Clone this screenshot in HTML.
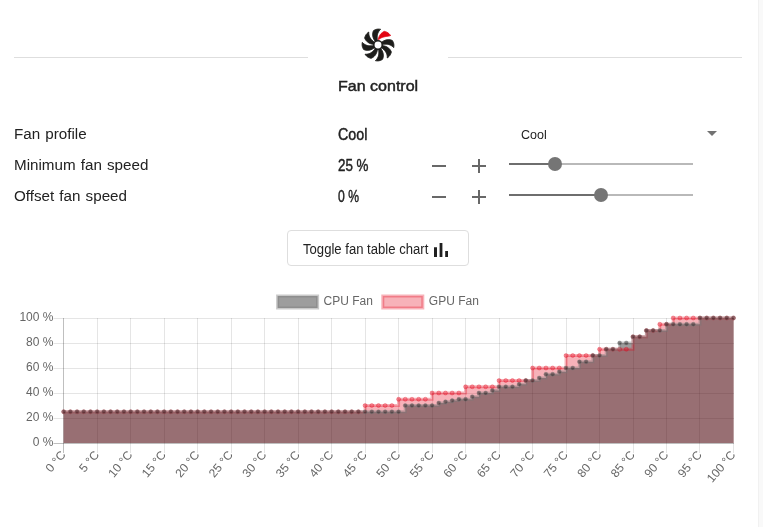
<!DOCTYPE html>
<html><head><meta charset="utf-8"><title>Fan control</title>
<style>
html,body{margin:0;padding:0;background:#fff;}
body{width:763px;height:527px;position:relative;overflow:hidden;font-family:"Liberation Sans",Arial,sans-serif;color:#222;}
.abs{position:absolute;white-space:nowrap;}
.hr{position:absolute;height:1px;background:#dedede;top:57px;}
.lbl{left:14px;font-size:15.2px;line-height:20px;word-spacing:0.9px;}
.val{left:338px;font-size:16.2px;line-height:20px;font-weight:400;-webkit-text-stroke:0.45px #222;transform-origin:0 50%;transform:scaleX(0.9);}
.ic{position:absolute;background:#686868;}
.track{position:absolute;height:2px;}
.thumb{position:absolute;width:14px;height:14px;border-radius:50%;background:#757575;}
#sb{position:absolute;left:758px;top:0;width:5px;height:527px;background:#f9f9f9;border-left:1px solid #f1f1f1;box-sizing:border-box}
#btn{position:absolute;left:287px;top:230px;width:182px;height:36px;box-sizing:border-box;border:1px solid #dedede;border-radius:4px;background:#fff;}
</style></head><body>
<div class="hr" style="left:14px;width:294px"></div>
<div class="hr" style="left:448px;width:294px"></div>
<svg id="fan" width="40" height="40" viewBox="-20 -20 40 40" style="position:absolute;left:357.9px;top:24.65px" stroke-linejoin="round" stroke-width="0.9"><path d="M-2.27 -2.79 L-2.83 -3.56 L-3.36 -4.35 L-3.85 -5.17 L-4.29 -6.03 L-4.67 -6.92 L-4.97 -7.86 L-5.19 -8.84 L-5.31 -9.86 L-5.31 -10.93 L-5.20 -12.02 L-4.94 -13.15 L-4.54 -14.30 L-3.47 -14.93 L-2.33 -15.43 L-1.12 -15.76 L0.12 -15.90 L1.37 -15.87 L2.61 -15.68 L1.69 -14.78 L0.94 -13.82 L0.35 -12.82 L-0.11 -11.80 L-0.44 -10.77 L-0.65 -9.73 L-0.77 -8.69 L-0.81 -7.66 L-0.78 -6.63 L-0.70 -5.61 L-0.58 -4.59 L-0.44 -3.57Z" fill="#1d1d1b" stroke="#1d1d1b"/><path d="M2.79 -2.27 L3.56 -2.83 L4.35 -3.36 L5.17 -3.85 L6.03 -4.29 L6.92 -4.67 L7.86 -4.97 L8.84 -5.19 L9.86 -5.31 L10.93 -5.31 L12.02 -5.20 L13.15 -4.94 L14.30 -4.54 L14.93 -3.47 L15.43 -2.33 L15.76 -1.12 L15.90 0.12 L15.87 1.37 L15.68 2.61 L14.78 1.69 L13.82 0.94 L12.82 0.35 L11.80 -0.11 L10.77 -0.44 L9.73 -0.65 L8.69 -0.77 L7.66 -0.81 L6.63 -0.78 L5.61 -0.70 L4.59 -0.58 L3.57 -0.44Z" fill="#1d1d1b" stroke="#1d1d1b"/><path d="M3.58 0.37 L4.52 0.51 L5.46 0.70 L6.38 0.93 L7.30 1.23 L8.20 1.60 L9.07 2.05 L9.92 2.58 L10.73 3.22 L11.48 3.97 L12.18 4.83 L12.80 5.80 L13.32 6.90 L13.01 8.10 L12.56 9.26 L11.94 10.35 L11.16 11.33 L10.25 12.19 L9.24 12.94 L9.25 11.65 L9.10 10.44 L8.82 9.31 L8.42 8.27 L7.92 7.30 L7.34 6.42 L6.69 5.60 L5.99 4.84 L5.24 4.14 L4.46 3.47 L3.65 2.83 L2.84 2.21Z" fill="#1d1d1b" stroke="#1d1d1b"/><path d="M2.27 2.79 L2.83 3.56 L3.36 4.35 L3.85 5.17 L4.29 6.03 L4.67 6.92 L4.97 7.86 L5.19 8.84 L5.31 9.86 L5.31 10.93 L5.20 12.02 L4.94 13.15 L4.54 14.30 L3.47 14.93 L2.33 15.43 L1.12 15.76 L-0.12 15.90 L-1.37 15.87 L-2.61 15.68 L-1.69 14.78 L-0.94 13.82 L-0.35 12.82 L0.11 11.80 L0.44 10.77 L0.65 9.73 L0.77 8.69 L0.81 7.66 L0.78 6.63 L0.70 5.61 L0.58 4.59 L0.44 3.57Z" fill="#1d1d1b" stroke="#1d1d1b"/><path d="M-0.37 3.58 L-0.51 4.52 L-0.70 5.46 L-0.93 6.38 L-1.23 7.30 L-1.60 8.20 L-2.05 9.07 L-2.58 9.92 L-3.22 10.73 L-3.97 11.48 L-4.83 12.18 L-5.80 12.80 L-6.90 13.32 L-8.10 13.01 L-9.26 12.56 L-10.35 11.94 L-11.33 11.16 L-12.19 10.25 L-12.94 9.24 L-11.65 9.25 L-10.44 9.10 L-9.31 8.82 L-8.27 8.42 L-7.30 7.92 L-6.42 7.34 L-5.60 6.69 L-4.84 5.99 L-4.14 5.24 L-3.47 4.46 L-2.83 3.65 L-2.21 2.84Z" fill="#1d1d1b" stroke="#1d1d1b"/><path d="M-2.79 2.27 L-3.56 2.83 L-4.35 3.36 L-5.17 3.85 L-6.03 4.29 L-6.92 4.67 L-7.86 4.97 L-8.84 5.19 L-9.86 5.31 L-10.93 5.31 L-12.02 5.20 L-13.15 4.94 L-14.30 4.54 L-14.93 3.47 L-15.43 2.33 L-15.76 1.12 L-15.90 -0.12 L-15.87 -1.37 L-15.68 -2.61 L-14.78 -1.69 L-13.82 -0.94 L-12.82 -0.35 L-11.80 0.11 L-10.77 0.44 L-9.73 0.65 L-8.69 0.77 L-7.66 0.81 L-6.63 0.78 L-5.61 0.70 L-4.59 0.58 L-3.57 0.44Z" fill="#1d1d1b" stroke="#1d1d1b"/><path d="M-3.58 -0.37 L-4.52 -0.51 L-5.46 -0.70 L-6.38 -0.93 L-7.30 -1.23 L-8.20 -1.60 L-9.07 -2.05 L-9.92 -2.58 L-10.73 -3.22 L-11.48 -3.97 L-12.18 -4.83 L-12.80 -5.80 L-13.32 -6.90 L-13.01 -8.10 L-12.56 -9.26 L-11.94 -10.35 L-11.16 -11.33 L-10.25 -12.19 L-9.24 -12.94 L-9.25 -11.65 L-9.10 -10.44 L-8.82 -9.31 L-8.42 -8.27 L-7.92 -7.30 L-7.34 -6.42 L-6.69 -5.60 L-5.99 -4.84 L-5.24 -4.14 L-4.46 -3.47 L-3.65 -2.83 L-2.84 -2.21Z" fill="#1d1d1b" stroke="#1d1d1b"/><path d="M0.29 -5.49 L0.45 -6.28 L0.65 -7.05 L0.91 -7.82 L1.22 -8.58 L1.60 -9.32 L2.04 -10.05 L2.55 -10.74 L3.13 -11.41 L3.80 -12.04 L4.55 -12.62 L5.38 -13.15 L6.29 -13.62 L7.53 -13.31 L8.73 -12.85 L9.85 -12.23 L10.86 -11.43 L11.75 -10.50 L12.52 -9.47 L11.66 -9.20 L10.73 -8.99 L9.76 -8.81 L8.75 -8.64 L7.71 -8.46 L6.65 -8.26 L5.57 -8.00 L4.51 -7.67 L3.47 -7.26 L2.49 -6.76 L1.58 -6.15 L0.77 -5.45Z" fill="#e30613" stroke="#e30613"/><circle r="4.9" fill="#1d1d1b"/><circle r="3.45" fill="#fff"/></svg>
<div class="abs" id="title" style="left:338.3px;top:75.5px;font-size:15.2px;line-height:20px;font-weight:400;-webkit-text-stroke:0.45px #222;transform-origin:0 50%;transform:scaleX(1.055)">Fan control</div>

<div class="abs lbl" style="top:123.6px">Fan profile</div>
<div class="abs lbl" style="top:154.6px">Minimum fan speed</div>
<div class="abs lbl" style="top:185.6px">Offset fan speed</div>

<div class="abs val" style="top:123.8px;transform:scaleX(0.88)">Cool</div>
<div class="abs val" style="top:154.8px;transform:scaleX(0.827)">25 %</div>
<div class="abs val" style="top:185.8px;transform:scaleX(0.75)">0 %</div>

<div class="abs" id="sel" style="left:521px;top:125.8px;font-size:12.5px;line-height:18px;letter-spacing:0px">Cool</div>
<svg class="abs" style="left:707.3px;top:130.5px" width="10" height="5" viewBox="0 0 10 5"><path d="M0 0H10L5 5Z" fill="#727272"/></svg>

<div class="ic" style="left:432px;top:165px;width:14px;height:2px"></div>
<div class="ic" style="left:472px;top:165px;width:14px;height:2px"></div>
<div class="ic" style="left:478px;top:159px;width:2px;height:14px"></div>
<div class="ic" style="left:432px;top:196px;width:14px;height:2px"></div>
<div class="ic" style="left:472px;top:196px;width:14px;height:2px"></div>
<div class="ic" style="left:478px;top:190px;width:2px;height:14px"></div>

<div class="track" style="left:509px;top:163px;width:46px;background:#6e6e6e"></div>
<div class="track" style="left:555px;top:163px;width:138px;background:#b9b9b9"></div>
<div class="thumb" style="left:548px;top:157px"></div>
<div class="track" style="left:509px;top:194px;width:92px;background:#6e6e6e"></div>
<div class="track" style="left:601px;top:194px;width:92px;background:#b9b9b9"></div>
<div class="thumb" style="left:594px;top:188px"></div>

<div id="btn"></div>
<div class="abs" id="btntxt" style="left:303px;top:239.5px;font-size:14px;line-height:18px;transform-origin:0 50%;transform:scaleX(0.936)">Toggle fan table chart</div>
<svg class="abs" style="left:429.1px;top:237.7px" width="24" height="24" viewBox="0 0 24 24" fill="#1f1f1f"><path d="M5 9.2h3V19H5zM10.6 5h2.8v14h-2.8zm5.6 8H19v6h-2.8z"/></svg>

<svg id="chart" width="763" height="247" viewBox="0 280 763 247" style="position:absolute;left:0;top:280px" font-family="'Liberation Sans',Arial,sans-serif" font-size="12" fill="#666">
<line x1="63.50" y1="318.0" x2="63.50" y2="453.0" stroke="rgba(0,0,0,0.25)" stroke-width="1"/><line x1="97.50" y1="318.0" x2="97.50" y2="453.0" stroke="rgba(0,0,0,0.1)" stroke-width="1"/><line x1="130.50" y1="318.0" x2="130.50" y2="453.0" stroke="rgba(0,0,0,0.1)" stroke-width="1"/><line x1="164.50" y1="318.0" x2="164.50" y2="453.0" stroke="rgba(0,0,0,0.1)" stroke-width="1"/><line x1="197.50" y1="318.0" x2="197.50" y2="453.0" stroke="rgba(0,0,0,0.1)" stroke-width="1"/><line x1="231.50" y1="318.0" x2="231.50" y2="453.0" stroke="rgba(0,0,0,0.1)" stroke-width="1"/><line x1="264.50" y1="318.0" x2="264.50" y2="453.0" stroke="rgba(0,0,0,0.1)" stroke-width="1"/><line x1="298.50" y1="318.0" x2="298.50" y2="453.0" stroke="rgba(0,0,0,0.1)" stroke-width="1"/><line x1="331.50" y1="318.0" x2="331.50" y2="453.0" stroke="rgba(0,0,0,0.1)" stroke-width="1"/><line x1="365.50" y1="318.0" x2="365.50" y2="453.0" stroke="rgba(0,0,0,0.1)" stroke-width="1"/><line x1="398.50" y1="318.0" x2="398.50" y2="453.0" stroke="rgba(0,0,0,0.1)" stroke-width="1"/><line x1="432.50" y1="318.0" x2="432.50" y2="453.0" stroke="rgba(0,0,0,0.1)" stroke-width="1"/><line x1="465.50" y1="318.0" x2="465.50" y2="453.0" stroke="rgba(0,0,0,0.1)" stroke-width="1"/><line x1="499.50" y1="318.0" x2="499.50" y2="453.0" stroke="rgba(0,0,0,0.1)" stroke-width="1"/><line x1="532.50" y1="318.0" x2="532.50" y2="453.0" stroke="rgba(0,0,0,0.1)" stroke-width="1"/><line x1="566.50" y1="318.0" x2="566.50" y2="453.0" stroke="rgba(0,0,0,0.1)" stroke-width="1"/><line x1="599.50" y1="318.0" x2="599.50" y2="453.0" stroke="rgba(0,0,0,0.1)" stroke-width="1"/><line x1="633.50" y1="318.0" x2="633.50" y2="453.0" stroke="rgba(0,0,0,0.1)" stroke-width="1"/><line x1="666.50" y1="318.0" x2="666.50" y2="453.0" stroke="rgba(0,0,0,0.1)" stroke-width="1"/><line x1="699.50" y1="318.0" x2="699.50" y2="453.0" stroke="rgba(0,0,0,0.1)" stroke-width="1"/><line x1="733.50" y1="318.0" x2="733.50" y2="453.0" stroke="rgba(0,0,0,0.1)" stroke-width="1"/><line x1="53.48" y1="443.50" x2="734" y2="443.50" stroke="rgba(0,0,0,0.25)" stroke-width="1"/><line x1="53.48" y1="418.50" x2="734" y2="418.50" stroke="rgba(0,0,0,0.1)" stroke-width="1"/><line x1="53.48" y1="393.50" x2="734" y2="393.50" stroke="rgba(0,0,0,0.1)" stroke-width="1"/><line x1="53.48" y1="368.50" x2="734" y2="368.50" stroke="rgba(0,0,0,0.1)" stroke-width="1"/><line x1="53.48" y1="343.50" x2="734" y2="343.50" stroke="rgba(0,0,0,0.1)" stroke-width="1"/><line x1="53.48" y1="318.50" x2="734" y2="318.50" stroke="rgba(0,0,0,0.1)" stroke-width="1"/>
<polygon points="63.68,411.75 365.09,411.75 365.09,405.50 398.58,405.50 398.58,399.25 432.07,399.25 432.07,393.00 465.56,393.00 465.56,386.75 499.05,386.75 499.05,380.50 532.54,380.50 532.54,368.00 566.03,368.00 566.03,355.50 599.52,355.50 599.52,349.25 633.01,349.25 633.01,336.75 646.41,336.75 646.41,330.50 659.80,330.50 659.80,324.25 673.20,324.25 673.20,318.00 733.48,318.00 733.48,443.00 63.68,443.00" fill="rgba(227,0,22,0.3)"/>
<polygon points="63.68,411.75 405.28,411.75 405.28,405.50 438.77,405.50 438.77,403.00 445.47,403.00 445.47,401.75 452.16,401.75 452.16,400.50 458.86,400.50 458.86,399.25 472.26,399.25 472.26,396.75 478.96,396.75 478.96,393.00 492.35,393.00 492.35,390.50 499.05,390.50 499.05,386.75 519.14,386.75 519.14,384.25 525.84,384.25 525.84,380.50 539.24,380.50 539.24,378.00 545.94,378.00 545.94,374.25 559.33,374.25 559.33,371.75 566.03,371.75 566.03,368.00 579.43,368.00 579.43,361.75 592.82,361.75 592.82,355.50 606.22,355.50 606.22,349.25 619.61,349.25 619.61,343.00 633.01,343.00 633.01,336.75 646.41,336.75 646.41,330.50 666.50,330.50 666.50,324.25 699.99,324.25 699.99,318.00 733.48,318.00 733.48,443.00 63.68,443.00" fill="rgba(10,10,10,0.4)"/>
<polyline points="63.68,411.75 365.09,411.75 365.09,405.50 398.58,405.50 398.58,399.25 432.07,399.25 432.07,393.00 465.56,393.00 465.56,386.75 499.05,386.75 499.05,380.50 532.54,380.50 532.54,368.00 566.03,368.00 566.03,355.50 599.52,355.50 599.52,349.25 633.01,349.25 633.01,336.75 646.41,336.75 646.41,330.50 659.80,330.50 659.80,324.25 673.20,324.25 673.20,318.00 733.48,318.00" fill="none" stroke="rgba(227,0,22,0.3)" stroke-width="3" stroke-linejoin="miter"/>
<g fill="rgba(227,0,22,0.3)" stroke="rgba(227,0,22,0.3)" stroke-width="1"><circle cx="63.68" cy="411.75" r="2"/><circle cx="70.38" cy="411.75" r="2"/><circle cx="77.08" cy="411.75" r="2"/><circle cx="83.77" cy="411.75" r="2"/><circle cx="90.47" cy="411.75" r="2"/><circle cx="97.17" cy="411.75" r="2"/><circle cx="103.87" cy="411.75" r="2"/><circle cx="110.57" cy="411.75" r="2"/><circle cx="117.26" cy="411.75" r="2"/><circle cx="123.96" cy="411.75" r="2"/><circle cx="130.66" cy="411.75" r="2"/><circle cx="137.36" cy="411.75" r="2"/><circle cx="144.06" cy="411.75" r="2"/><circle cx="150.75" cy="411.75" r="2"/><circle cx="157.45" cy="411.75" r="2"/><circle cx="164.15" cy="411.75" r="2"/><circle cx="170.85" cy="411.75" r="2"/><circle cx="177.55" cy="411.75" r="2"/><circle cx="184.24" cy="411.75" r="2"/><circle cx="190.94" cy="411.75" r="2"/><circle cx="197.64" cy="411.75" r="2"/><circle cx="204.34" cy="411.75" r="2"/><circle cx="211.04" cy="411.75" r="2"/><circle cx="217.73" cy="411.75" r="2"/><circle cx="224.43" cy="411.75" r="2"/><circle cx="231.13" cy="411.75" r="2"/><circle cx="237.83" cy="411.75" r="2"/><circle cx="244.53" cy="411.75" r="2"/><circle cx="251.22" cy="411.75" r="2"/><circle cx="257.92" cy="411.75" r="2"/><circle cx="264.62" cy="411.75" r="2"/><circle cx="271.32" cy="411.75" r="2"/><circle cx="278.02" cy="411.75" r="2"/><circle cx="284.71" cy="411.75" r="2"/><circle cx="291.41" cy="411.75" r="2"/><circle cx="298.11" cy="411.75" r="2"/><circle cx="304.81" cy="411.75" r="2"/><circle cx="311.51" cy="411.75" r="2"/><circle cx="318.20" cy="411.75" r="2"/><circle cx="324.90" cy="411.75" r="2"/><circle cx="331.60" cy="411.75" r="2"/><circle cx="338.30" cy="411.75" r="2"/><circle cx="345.00" cy="411.75" r="2"/><circle cx="351.69" cy="411.75" r="2"/><circle cx="358.39" cy="411.75" r="2"/><circle cx="365.09" cy="405.50" r="2"/><circle cx="371.79" cy="405.50" r="2"/><circle cx="378.49" cy="405.50" r="2"/><circle cx="385.18" cy="405.50" r="2"/><circle cx="391.88" cy="405.50" r="2"/><circle cx="398.58" cy="399.25" r="2"/><circle cx="405.28" cy="399.25" r="2"/><circle cx="411.98" cy="399.25" r="2"/><circle cx="418.67" cy="399.25" r="2"/><circle cx="425.37" cy="399.25" r="2"/><circle cx="432.07" cy="393.00" r="2"/><circle cx="438.77" cy="393.00" r="2"/><circle cx="445.47" cy="393.00" r="2"/><circle cx="452.16" cy="393.00" r="2"/><circle cx="458.86" cy="393.00" r="2"/><circle cx="465.56" cy="386.75" r="2"/><circle cx="472.26" cy="386.75" r="2"/><circle cx="478.96" cy="386.75" r="2"/><circle cx="485.65" cy="386.75" r="2"/><circle cx="492.35" cy="386.75" r="2"/><circle cx="499.05" cy="380.50" r="2"/><circle cx="505.75" cy="380.50" r="2"/><circle cx="512.45" cy="380.50" r="2"/><circle cx="519.14" cy="380.50" r="2"/><circle cx="525.84" cy="380.50" r="2"/><circle cx="532.54" cy="368.00" r="2"/><circle cx="539.24" cy="368.00" r="2"/><circle cx="545.94" cy="368.00" r="2"/><circle cx="552.63" cy="368.00" r="2"/><circle cx="559.33" cy="368.00" r="2"/><circle cx="566.03" cy="355.50" r="2"/><circle cx="572.73" cy="355.50" r="2"/><circle cx="579.43" cy="355.50" r="2"/><circle cx="586.12" cy="355.50" r="2"/><circle cx="592.82" cy="355.50" r="2"/><circle cx="599.52" cy="349.25" r="2"/><circle cx="606.22" cy="349.25" r="2"/><circle cx="612.92" cy="349.25" r="2"/><circle cx="619.61" cy="349.25" r="2"/><circle cx="626.31" cy="349.25" r="2"/><circle cx="633.01" cy="336.75" r="2"/><circle cx="639.71" cy="336.75" r="2"/><circle cx="646.41" cy="330.50" r="2"/><circle cx="653.10" cy="330.50" r="2"/><circle cx="659.80" cy="324.25" r="2"/><circle cx="666.50" cy="324.25" r="2"/><circle cx="673.20" cy="318.00" r="2"/><circle cx="679.90" cy="318.00" r="2"/><circle cx="686.59" cy="318.00" r="2"/><circle cx="693.29" cy="318.00" r="2"/><circle cx="699.99" cy="318.00" r="2"/><circle cx="706.69" cy="318.00" r="2"/><circle cx="713.39" cy="318.00" r="2"/><circle cx="720.08" cy="318.00" r="2"/><circle cx="726.78" cy="318.00" r="2"/><circle cx="733.48" cy="318.00" r="2"/></g>
<polyline points="63.68,411.75 405.28,411.75 405.28,405.50 438.77,405.50 438.77,403.00 445.47,403.00 445.47,401.75 452.16,401.75 452.16,400.50 458.86,400.50 458.86,399.25 472.26,399.25 472.26,396.75 478.96,396.75 478.96,393.00 492.35,393.00 492.35,390.50 499.05,390.50 499.05,386.75 519.14,386.75 519.14,384.25 525.84,384.25 525.84,380.50 539.24,380.50 539.24,378.00 545.94,378.00 545.94,374.25 559.33,374.25 559.33,371.75 566.03,371.75 566.03,368.00 579.43,368.00 579.43,361.75 592.82,361.75 592.82,355.50 606.22,355.50 606.22,349.25 619.61,349.25 619.61,343.00 633.01,343.00 633.01,336.75 646.41,336.75 646.41,330.50 666.50,330.50 666.50,324.25 699.99,324.25 699.99,318.00 733.48,318.00" fill="none" stroke="rgba(120,120,120,0.4)" stroke-width="3" stroke-linejoin="miter"/>
<g fill="rgba(10,10,10,0.4)" stroke="rgba(120,120,120,0.4)" stroke-width="1"><circle cx="63.68" cy="411.75" r="2"/><circle cx="70.38" cy="411.75" r="2"/><circle cx="77.08" cy="411.75" r="2"/><circle cx="83.77" cy="411.75" r="2"/><circle cx="90.47" cy="411.75" r="2"/><circle cx="97.17" cy="411.75" r="2"/><circle cx="103.87" cy="411.75" r="2"/><circle cx="110.57" cy="411.75" r="2"/><circle cx="117.26" cy="411.75" r="2"/><circle cx="123.96" cy="411.75" r="2"/><circle cx="130.66" cy="411.75" r="2"/><circle cx="137.36" cy="411.75" r="2"/><circle cx="144.06" cy="411.75" r="2"/><circle cx="150.75" cy="411.75" r="2"/><circle cx="157.45" cy="411.75" r="2"/><circle cx="164.15" cy="411.75" r="2"/><circle cx="170.85" cy="411.75" r="2"/><circle cx="177.55" cy="411.75" r="2"/><circle cx="184.24" cy="411.75" r="2"/><circle cx="190.94" cy="411.75" r="2"/><circle cx="197.64" cy="411.75" r="2"/><circle cx="204.34" cy="411.75" r="2"/><circle cx="211.04" cy="411.75" r="2"/><circle cx="217.73" cy="411.75" r="2"/><circle cx="224.43" cy="411.75" r="2"/><circle cx="231.13" cy="411.75" r="2"/><circle cx="237.83" cy="411.75" r="2"/><circle cx="244.53" cy="411.75" r="2"/><circle cx="251.22" cy="411.75" r="2"/><circle cx="257.92" cy="411.75" r="2"/><circle cx="264.62" cy="411.75" r="2"/><circle cx="271.32" cy="411.75" r="2"/><circle cx="278.02" cy="411.75" r="2"/><circle cx="284.71" cy="411.75" r="2"/><circle cx="291.41" cy="411.75" r="2"/><circle cx="298.11" cy="411.75" r="2"/><circle cx="304.81" cy="411.75" r="2"/><circle cx="311.51" cy="411.75" r="2"/><circle cx="318.20" cy="411.75" r="2"/><circle cx="324.90" cy="411.75" r="2"/><circle cx="331.60" cy="411.75" r="2"/><circle cx="338.30" cy="411.75" r="2"/><circle cx="345.00" cy="411.75" r="2"/><circle cx="351.69" cy="411.75" r="2"/><circle cx="358.39" cy="411.75" r="2"/><circle cx="365.09" cy="411.75" r="2"/><circle cx="371.79" cy="411.75" r="2"/><circle cx="378.49" cy="411.75" r="2"/><circle cx="385.18" cy="411.75" r="2"/><circle cx="391.88" cy="411.75" r="2"/><circle cx="398.58" cy="411.75" r="2"/><circle cx="405.28" cy="405.50" r="2"/><circle cx="411.98" cy="405.50" r="2"/><circle cx="418.67" cy="405.50" r="2"/><circle cx="425.37" cy="405.50" r="2"/><circle cx="432.07" cy="405.50" r="2"/><circle cx="438.77" cy="403.00" r="2"/><circle cx="445.47" cy="401.75" r="2"/><circle cx="452.16" cy="400.50" r="2"/><circle cx="458.86" cy="399.25" r="2"/><circle cx="465.56" cy="399.25" r="2"/><circle cx="472.26" cy="396.75" r="2"/><circle cx="478.96" cy="393.00" r="2"/><circle cx="485.65" cy="393.00" r="2"/><circle cx="492.35" cy="390.50" r="2"/><circle cx="499.05" cy="386.75" r="2"/><circle cx="505.75" cy="386.75" r="2"/><circle cx="512.45" cy="386.75" r="2"/><circle cx="519.14" cy="384.25" r="2"/><circle cx="525.84" cy="380.50" r="2"/><circle cx="532.54" cy="380.50" r="2"/><circle cx="539.24" cy="378.00" r="2"/><circle cx="545.94" cy="374.25" r="2"/><circle cx="552.63" cy="374.25" r="2"/><circle cx="559.33" cy="371.75" r="2"/><circle cx="566.03" cy="368.00" r="2"/><circle cx="572.73" cy="368.00" r="2"/><circle cx="579.43" cy="361.75" r="2"/><circle cx="586.12" cy="361.75" r="2"/><circle cx="592.82" cy="355.50" r="2"/><circle cx="599.52" cy="355.50" r="2"/><circle cx="606.22" cy="349.25" r="2"/><circle cx="612.92" cy="349.25" r="2"/><circle cx="619.61" cy="343.00" r="2"/><circle cx="626.31" cy="343.00" r="2"/><circle cx="633.01" cy="336.75" r="2"/><circle cx="639.71" cy="336.75" r="2"/><circle cx="646.41" cy="330.50" r="2"/><circle cx="653.10" cy="330.50" r="2"/><circle cx="659.80" cy="330.50" r="2"/><circle cx="666.50" cy="324.25" r="2"/><circle cx="673.20" cy="324.25" r="2"/><circle cx="679.90" cy="324.25" r="2"/><circle cx="686.59" cy="324.25" r="2"/><circle cx="693.29" cy="324.25" r="2"/><circle cx="699.99" cy="318.00" r="2"/><circle cx="706.69" cy="318.00" r="2"/><circle cx="713.39" cy="318.00" r="2"/><circle cx="720.08" cy="318.00" r="2"/><circle cx="726.78" cy="318.00" r="2"/><circle cx="733.48" cy="318.00" r="2"/></g>
<text x="53.48" y="445.80" text-anchor="end">0 %</text>
<text x="53.48" y="420.80" text-anchor="end">20 %</text>
<text x="53.48" y="395.80" text-anchor="end">40 %</text>
<text x="53.48" y="370.80" text-anchor="end">60 %</text>
<text x="53.48" y="345.80" text-anchor="end">80 %</text>
<text x="53.48" y="320.80" text-anchor="end">100 %</text>
<text transform="translate(63.68,453.00) rotate(-50)" x="0" y="3.3" text-anchor="end">0 °C</text>
<text transform="translate(97.17,453.00) rotate(-50)" x="0" y="3.3" text-anchor="end">5 °C</text>
<text transform="translate(130.66,453.00) rotate(-50)" x="0" y="3.3" text-anchor="end">10 °C</text>
<text transform="translate(164.15,453.00) rotate(-50)" x="0" y="3.3" text-anchor="end">15 °C</text>
<text transform="translate(197.64,453.00) rotate(-50)" x="0" y="3.3" text-anchor="end">20 °C</text>
<text transform="translate(231.13,453.00) rotate(-50)" x="0" y="3.3" text-anchor="end">25 °C</text>
<text transform="translate(264.62,453.00) rotate(-50)" x="0" y="3.3" text-anchor="end">30 °C</text>
<text transform="translate(298.11,453.00) rotate(-50)" x="0" y="3.3" text-anchor="end">35 °C</text>
<text transform="translate(331.60,453.00) rotate(-50)" x="0" y="3.3" text-anchor="end">40 °C</text>
<text transform="translate(365.09,453.00) rotate(-50)" x="0" y="3.3" text-anchor="end">45 °C</text>
<text transform="translate(398.58,453.00) rotate(-50)" x="0" y="3.3" text-anchor="end">50 °C</text>
<text transform="translate(432.07,453.00) rotate(-50)" x="0" y="3.3" text-anchor="end">55 °C</text>
<text transform="translate(465.56,453.00) rotate(-50)" x="0" y="3.3" text-anchor="end">60 °C</text>
<text transform="translate(499.05,453.00) rotate(-50)" x="0" y="3.3" text-anchor="end">65 °C</text>
<text transform="translate(532.54,453.00) rotate(-50)" x="0" y="3.3" text-anchor="end">70 °C</text>
<text transform="translate(566.03,453.00) rotate(-50)" x="0" y="3.3" text-anchor="end">75 °C</text>
<text transform="translate(599.52,453.00) rotate(-50)" x="0" y="3.3" text-anchor="end">80 °C</text>
<text transform="translate(633.01,453.00) rotate(-50)" x="0" y="3.3" text-anchor="end">85 °C</text>
<text transform="translate(666.50,453.00) rotate(-50)" x="0" y="3.3" text-anchor="end">90 °C</text>
<text transform="translate(699.99,453.00) rotate(-50)" x="0" y="3.3" text-anchor="end">95 °C</text>
<text transform="translate(733.48,453.00) rotate(-50)" x="0" y="3.3" text-anchor="end">100 °C</text>
<rect x="277.6" y="296" width="40" height="12" fill="rgba(10,10,10,0.4)" stroke="rgba(120,120,120,0.4)" stroke-width="3"/>
<text x="323.6" y="305.1">CPU Fan</text>
<rect x="382.8" y="296" width="40" height="12" fill="rgba(227,0,22,0.3)" stroke="rgba(227,0,22,0.3)" stroke-width="3"/>
<text x="428.8" y="305.1">GPU Fan</text>
</svg>
<div id="sb"></div>
</body></html>
